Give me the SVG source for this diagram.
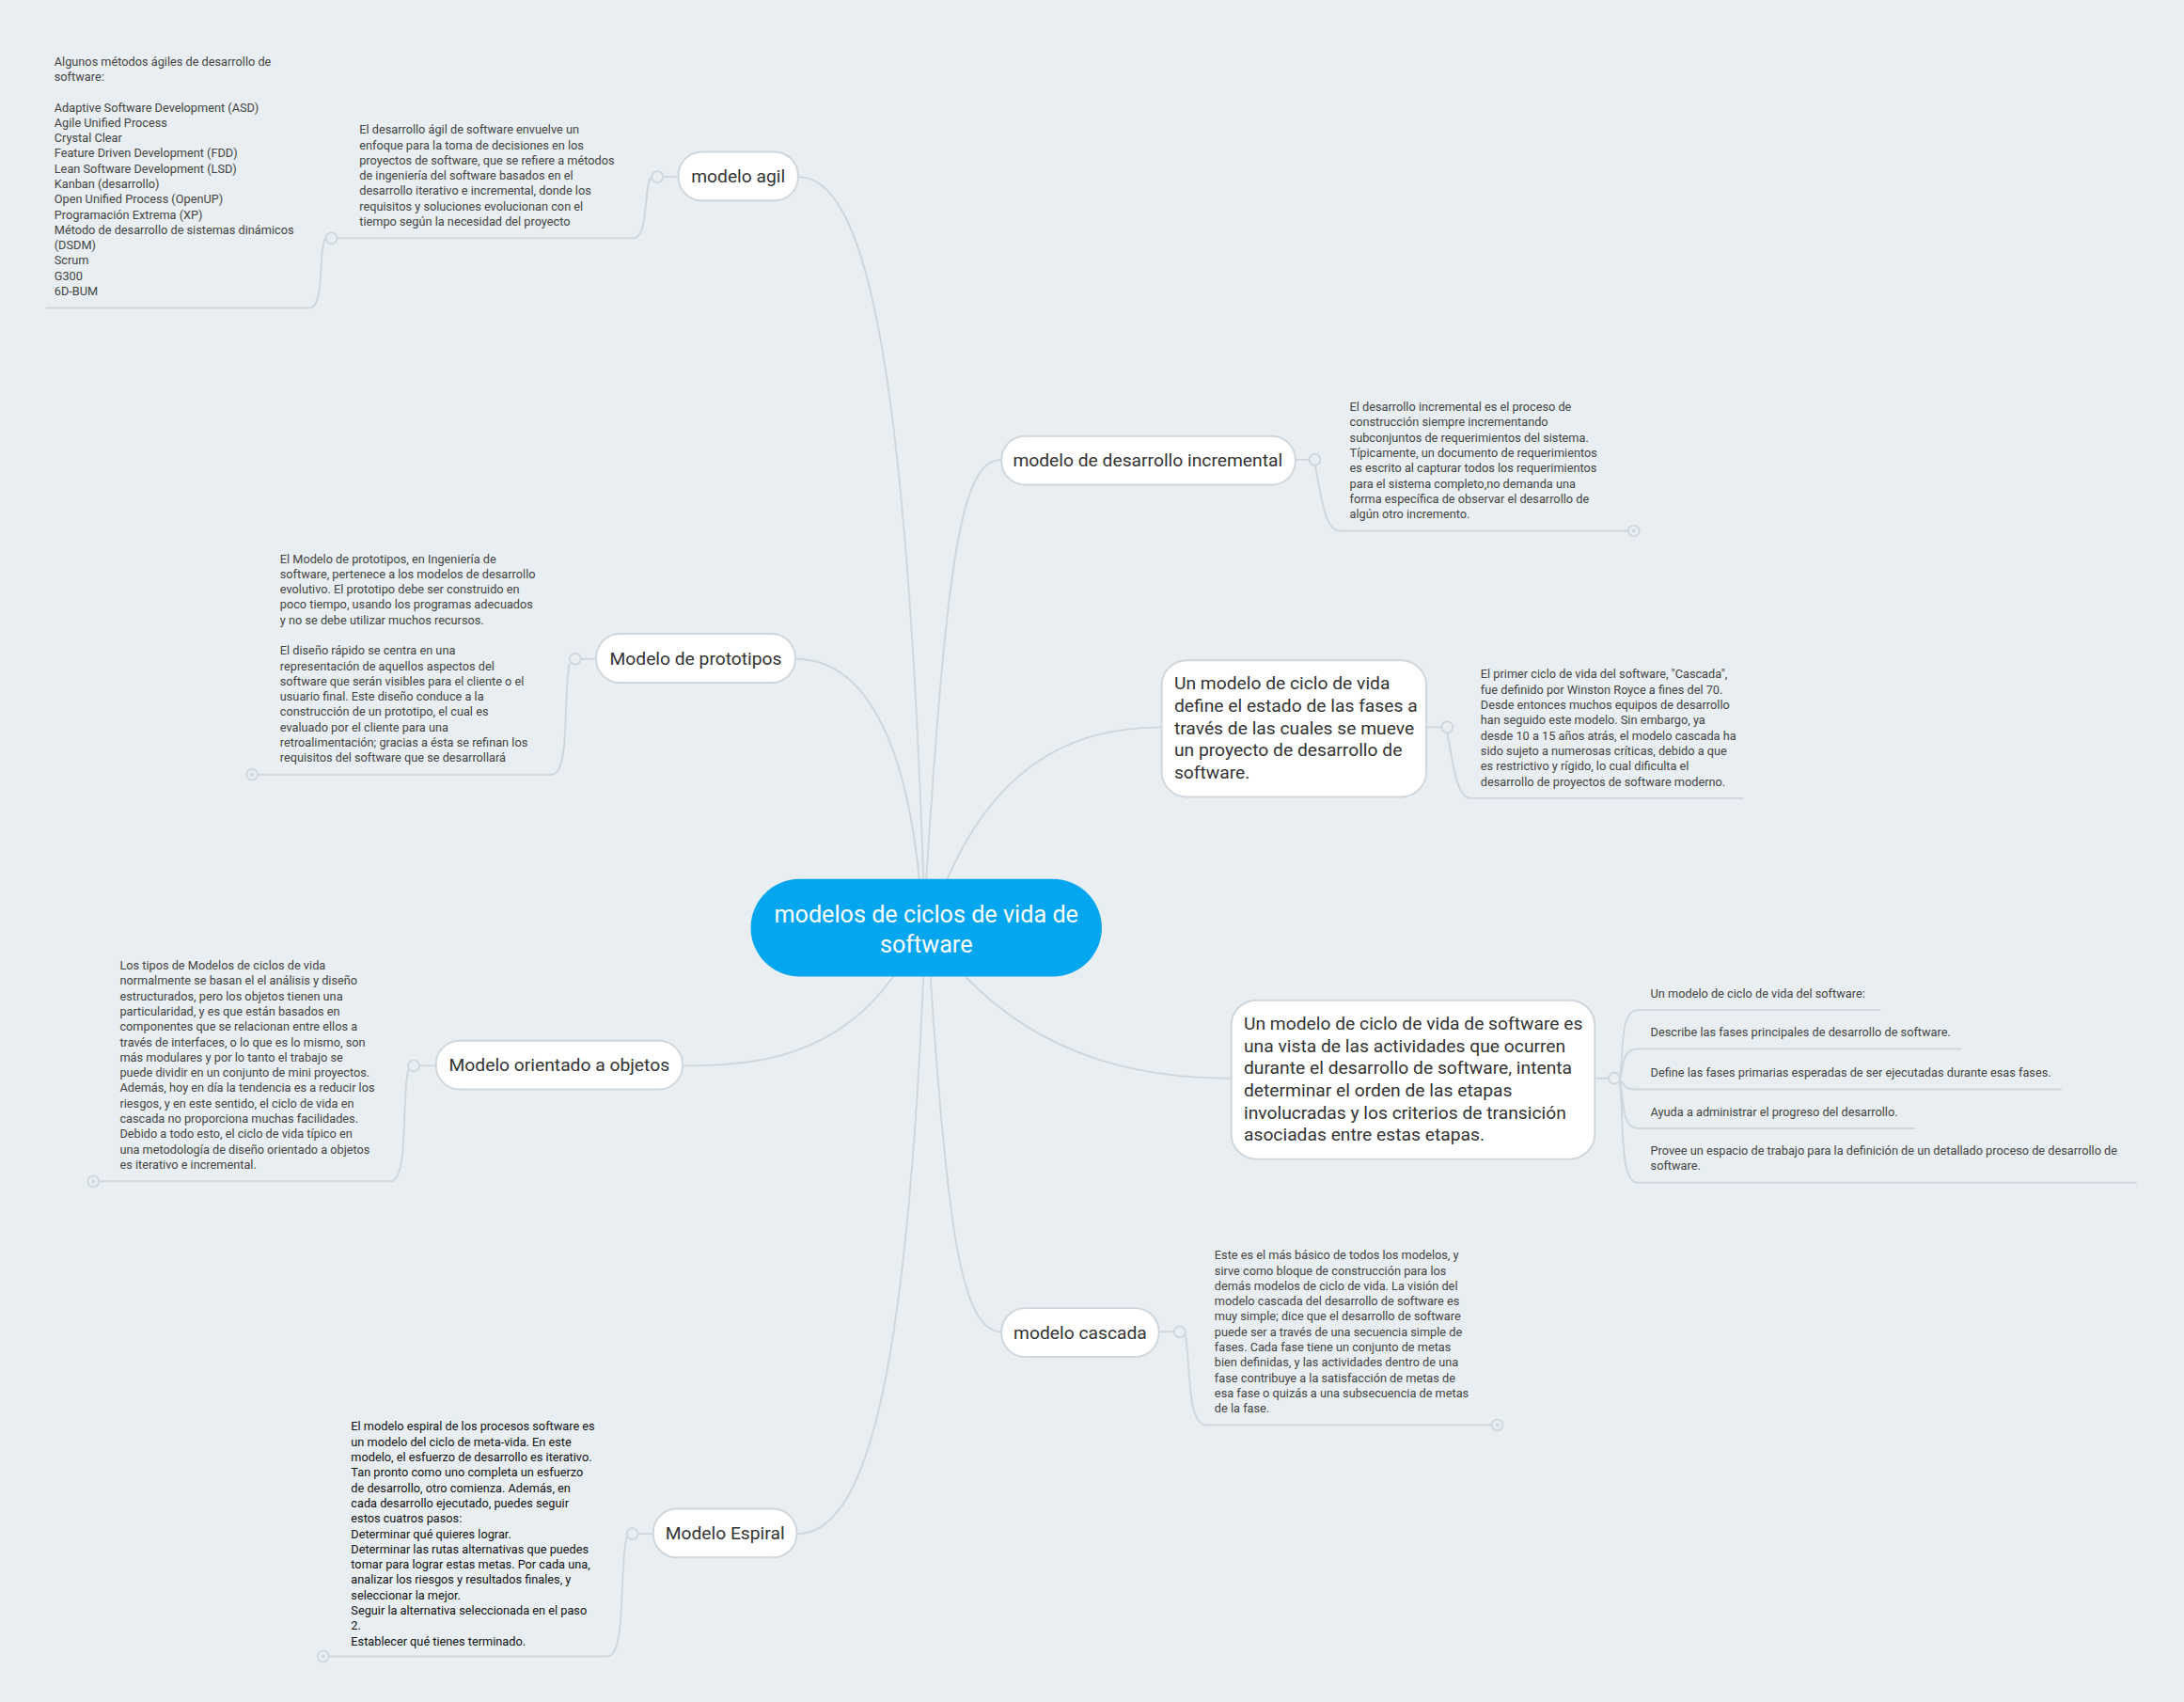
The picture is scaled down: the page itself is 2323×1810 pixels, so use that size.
<svg xmlns="http://www.w3.org/2000/svg" width="2323" height="1810" viewBox="0 0 2323 1810">
<style>
.c{fill:none;stroke:#cfd6dc;stroke-width:1.3}
.n{fill:#fff;stroke:#cfd6dc;stroke-width:1.3}
.d{fill:#e8eef1;stroke:#cfd6dc;stroke-width:1.2}
.t{font-family:Roboto,"Liberation Sans",sans-serif;font-size:13px;fill:#333}
.s{font-family:Roboto,"Liberation Sans",sans-serif;font-size:8.6px;fill:#444}
.k{fill:#111}
</style>
<rect width="2323" height="1810" fill="#e8eef1"/>
<g transform="scale(1.48151)">
<g id="connectors">
<path class="c" d="M663 631 C650 250 620 127 573 127"/>
<path class="c" d="M660 631 C650 530 620 473 571 473"/>
<path class="c" d="M642 700 C600 760 540 765 490 765"/>
<path class="c" d="M663 701 C650 1000 620 1101 572 1101"/>
<path class="c" d="M665 631 C680 400 690 330 719 330"/>
<path class="c" d="M680 631 C720 540 780 522 834 522"/>
<path class="c" d="M693 701 C750 760 820 774 884 774"/>
<path class="c" d="M668 701 C680 880 690 956 719 956"/>
<!-- agil -->
<path class="c" d="M487 127 H476 M468 127 C462 130 466 171 455 171 H242 M234 171 C228 176 234 221 222 221 H33"/>
<circle class="d" cx="472" cy="127" r="4"/><circle class="d" cx="238" cy="171" r="4"/>
<!-- incremental -->
<path class="c" d="M930 330 H940 M944 334 C948 350 950 381 962 381 H1169"/>
<circle class="d" cx="944" cy="330" r="4"/><circle class="d" cx="1173" cy="381" r="4"/><circle cx="1173" cy="381" r="1.3" fill="#cfd6dc"/>
<!-- define -->
<path class="c" d="M1024 522 H1035 M1039 526 C1043 545 1045 573 1056 573 H1252"/>
<circle class="d" cx="1039" cy="522" r="4"/>
<!-- prototipos -->
<path class="c" d="M428 473 H417 M409 476 C404 495 410 556 396 556 H185"/>
<circle class="d" cx="413" cy="473" r="4"/><circle class="d" cx="181" cy="556" r="4"/><circle cx="181" cy="556" r="1.3" fill="#cfd6dc"/>
<!-- orientado -->
<path class="c" d="M313 765 H301 M293 768 C288 790 294 848 280 848 H71"/>
<circle class="d" cx="297" cy="765" r="4"/><circle class="d" cx="67" cy="848" r="4"/><circle cx="67" cy="848" r="1.3" fill="#cfd6dc"/>
<!-- big node -->
<path class="c" d="M1145 774 H1155 M1163 772 C1166 760 1162 725 1176 725 H1350 M1163 774 C1166 765 1164 753 1176 753 H1408 M1163 775 C1166 778 1165 782 1176 782 H1480 M1163 776 C1166 790 1164 810 1176 810 H1375 M1163 777 C1166 800 1162 849 1176 849 H1534"/>
<circle class="d" cx="1159" cy="774" r="4"/>
<!-- cascada -->
<path class="c" d="M832 956 H843 M851 958 C855 980 852 1023 866 1023 H1071"/>
<circle class="d" cx="847" cy="956" r="4"/><circle class="d" cx="1075" cy="1023" r="4"/><circle cx="1075" cy="1023" r="1.3" fill="#cfd6dc"/>
<!-- espiral -->
<path class="c" d="M469 1101 H458 M450 1103 C444 1130 450 1189 436 1189 H236"/>
<circle class="d" cx="454" cy="1101" r="4"/><circle class="d" cx="232" cy="1189" r="4"/><circle cx="232" cy="1189" r="1.3" fill="#cfd6dc"/>
</g>
<g id="root">
<rect x="539" y="631" width="252" height="70" rx="35" fill="#05a6f0"/>
<text font-family="Roboto,'Liberation Sans',sans-serif" font-size="17" fill="#fff" text-anchor="middle"><tspan x="665" y="662">modelos de ciclos de vida de</tspan><tspan x="665" y="684">software</tspan></text>
</g>
<g id="n-agil"><rect class="n" x="487" y="109" width="86" height="35" rx="17"/><text class="t" x="530" y="131" text-anchor="middle">modelo agil</text></g>
<g id="n-incremental"><rect class="n" x="719" y="313" width="211" height="35" rx="17"/><text class="t" x="824" y="335" text-anchor="middle">modelo de desarrollo incremental</text></g>
<g id="n-define"><rect class="n" x="834" y="474" width="190" height="98" rx="18"/><text class="t"><tspan x="843" y="495">Un modelo de ciclo de vida</tspan><tspan x="843" y="511">define el estado de las fases a</tspan><tspan x="843" y="527">través de las cuales se mueve</tspan><tspan x="843" y="543">un proyecto de desarrollo de</tspan><tspan x="843" y="559">software.</tspan></text></g>
<g id="n-prototipos"><rect class="n" x="428" y="455" width="143" height="35" rx="17"/><text class="t" x="499.5" y="477" text-anchor="middle">Modelo de prototipos</text></g>
<g id="n-objetos"><rect class="n" x="313" y="747" width="177" height="35" rx="17"/><text class="t" x="401.5" y="769" text-anchor="middle">Modelo orientado a objetos</text></g>
<g id="n-vista"><rect class="n" x="884" y="718" width="261" height="114" rx="18"/><text class="t"><tspan x="893" y="739">Un modelo de ciclo de vida de software es</tspan><tspan x="893" y="755">una vista de las actividades que ocurren</tspan><tspan x="893" y="771">durante el desarrollo de software, intenta</tspan><tspan x="893" y="787">determinar el orden de las etapas</tspan><tspan x="893" y="803">involucradas y los criterios de transición</tspan><tspan x="893" y="819">asociadas entre estas etapas.</tspan></text></g>
<g id="n-cascada"><rect class="n" x="719" y="939" width="113" height="35" rx="17"/><text class="t" x="775.5" y="961" text-anchor="middle">modelo cascada</text></g>
<g id="n-espiral"><rect class="n" x="469" y="1083" width="103" height="35" rx="17"/><text class="t" x="520.5" y="1105" text-anchor="middle">Modelo Espiral</text></g>
<g id="notes">
<text class="s"><tspan x="258" y="96">El desarrollo ágil de software envuelve un</tspan><tspan x="258" y="107">enfoque para la toma de decisiones en los</tspan><tspan x="258" y="118">proyectos de software, que se refiere a métodos</tspan><tspan x="258" y="129">de ingeniería del software basados en el</tspan><tspan x="258" y="140">desarrollo iterativo e incremental, donde los</tspan><tspan x="258" y="151">requisitos y soluciones evolucionan con el</tspan><tspan x="258" y="162">tiempo según la necesidad del proyecto</tspan></text>
<text class="s"><tspan x="39" y="47">Algunos métodos ágiles de desarrollo de</tspan><tspan x="39" y="58">software:</tspan><tspan x="39" y="80">Adaptive Software Development (ASD)</tspan><tspan x="39" y="91">Agile Unified Process</tspan><tspan x="39" y="102">Crystal Clear</tspan><tspan x="39" y="113">Feature Driven Development (FDD)</tspan><tspan x="39" y="124">Lean Software Development (LSD)</tspan><tspan x="39" y="135">Kanban (desarrollo)</tspan><tspan x="39" y="146">Open Unified Process (OpenUP)</tspan><tspan x="39" y="157">Programación Extrema (XP)</tspan><tspan x="39" y="168">Método de desarrollo de sistemas dinámicos</tspan><tspan x="39" y="179">(DSDM)</tspan><tspan x="39" y="190">Scrum</tspan><tspan x="39" y="201">G300</tspan><tspan x="39" y="212">6D-BUM</tspan></text>
<text class="s"><tspan x="969" y="295">El desarrollo incremental es el proceso de</tspan><tspan x="969" y="306">construcción siempre incrementando</tspan><tspan x="969" y="317">subconjuntos de requerimientos del sistema.</tspan><tspan x="969" y="328">Típicamente, un documento de requerimientos</tspan><tspan x="969" y="339">es escrito al capturar todos los requerimientos</tspan><tspan x="969" y="350">para el sistema completo,no demanda una</tspan><tspan x="969" y="361">forma específica de observar el desarrollo de</tspan><tspan x="969" y="372">algún otro incremento.</tspan></text>
<text class="s"><tspan x="1063" y="487">El primer ciclo de vida del software, "Cascada",</tspan><tspan x="1063" y="498">fue definido por Winston Royce a fines del 70.</tspan><tspan x="1063" y="509">Desde entonces muchos equipos de desarrollo</tspan><tspan x="1063" y="520">han seguido este modelo. Sin embargo, ya</tspan><tspan x="1063" y="531">desde 10 a 15 años atrás, el modelo cascada ha</tspan><tspan x="1063" y="542">sido sujeto a numerosas críticas, debido a que</tspan><tspan x="1063" y="553">es restrictivo y rígido, lo cual dificulta el</tspan><tspan x="1063" y="564">desarrollo de proyectos de software moderno.</tspan></text>
<text class="s"><tspan x="201" y="404">El Modelo de prototipos, en Ingeniería de</tspan><tspan x="201" y="415">software, pertenece a los modelos de desarrollo</tspan><tspan x="201" y="426">evolutivo. El prototipo debe ser construido en</tspan><tspan x="201" y="437">poco tiempo, usando los programas adecuados</tspan><tspan x="201" y="448">y no se debe utilizar muchos recursos.</tspan><tspan x="201" y="470">El diseño rápido se centra en una</tspan><tspan x="201" y="481">representación de aquellos aspectos del</tspan><tspan x="201" y="492">software que serán visibles para el cliente o el</tspan><tspan x="201" y="503">usuario final. Este diseño conduce a la</tspan><tspan x="201" y="514">construcción de un prototipo, el cual es</tspan><tspan x="201" y="525">evaluado por el cliente para una</tspan><tspan x="201" y="536">retroalimentación; gracias a ésta se refinan los</tspan><tspan x="201" y="547">requisitos del software que se desarrollará</tspan></text>
<text class="s"><tspan x="86" y="696">Los tipos de Modelos de ciclos de vida</tspan><tspan x="86" y="707">normalmente se basan el el análisis y diseño</tspan><tspan x="86" y="718">estructurados, pero los objetos tienen una</tspan><tspan x="86" y="729">particularidad, y es que están basados en</tspan><tspan x="86" y="740">componentes que se relacionan entre ellos a</tspan><tspan x="86" y="751">través de interfaces, o lo que es lo mismo, son</tspan><tspan x="86" y="762">más modulares y por lo tanto el trabajo se</tspan><tspan x="86" y="773">puede dividir en un conjunto de mini proyectos.</tspan><tspan x="86" y="784">Además, hoy en día la tendencia es a reducir los</tspan><tspan x="86" y="795">riesgos, y en este sentido, el ciclo de vida en</tspan><tspan x="86" y="806">cascada no proporciona muchas facilidades.</tspan><tspan x="86" y="817">Debido a todo esto, el ciclo de vida típico en</tspan><tspan x="86" y="828">una metodología de diseño orientado a objetos</tspan><tspan x="86" y="839">es iterativo e incremental.</tspan></text>
<text class="s"><tspan x="1185" y="716">Un modelo de ciclo de vida del software:</tspan><tspan x="1185" y="744">Describe las fases principales de desarrollo de software.</tspan><tspan x="1185" y="773">Define las fases primarias esperadas de ser ejecutadas durante esas fases.</tspan><tspan x="1185" y="801">Ayuda a administrar el progreso del desarrollo.</tspan><tspan x="1185" y="829">Provee un espacio de trabajo para la definición de un detallado proceso de desarrollo de</tspan><tspan x="1185" y="840">software.</tspan></text>
<text class="s"><tspan x="872" y="904">Este es el más básico de todos los modelos, y</tspan><tspan x="872" y="915">sirve como bloque de construcción para los</tspan><tspan x="872" y="926">demás modelos de ciclo de vida. La visión del</tspan><tspan x="872" y="937">modelo cascada del desarrollo de software es</tspan><tspan x="872" y="948">muy simple; dice que el desarrollo de software</tspan><tspan x="872" y="959">puede ser a través de una secuencia simple de</tspan><tspan x="872" y="970">fases. Cada fase tiene un conjunto de metas</tspan><tspan x="872" y="981">bien definidas, y las actividades dentro de una</tspan><tspan x="872" y="992">fase contribuye a la satisfacción de metas de</tspan><tspan x="872" y="1003">esa fase o quizás a una subsecuencia de metas</tspan><tspan x="872" y="1014">de la fase.</tspan></text>
<text class="s k"><tspan x="252" y="1027">El modelo espiral de los procesos software es</tspan><tspan x="252" y="1038">un modelo del ciclo de meta-vida. En este</tspan><tspan x="252" y="1049">modelo, el esfuerzo de desarrollo es iterativo.</tspan><tspan x="252" y="1060">Tan pronto como uno completa un esfuerzo</tspan><tspan x="252" y="1071">de desarrollo, otro comienza. Además, en</tspan><tspan x="252" y="1082">cada desarrollo ejecutado, puedes seguir</tspan><tspan x="252" y="1093">estos cuatros pasos:</tspan><tspan x="252" y="1104">Determinar qué quieres lograr.</tspan><tspan x="252" y="1115">Determinar las rutas alternativas que puedes</tspan><tspan x="252" y="1126">tomar para lograr estas metas. Por cada una,</tspan><tspan x="252" y="1137">analizar los riesgos y resultados finales, y</tspan><tspan x="252" y="1148">seleccionar la mejor.</tspan><tspan x="252" y="1159">Seguir la alternativa seleccionada en el paso</tspan><tspan x="252" y="1170">2.</tspan><tspan x="252" y="1181">Establecer qué tienes terminado.</tspan></text>
</g>
</g>
</svg>
